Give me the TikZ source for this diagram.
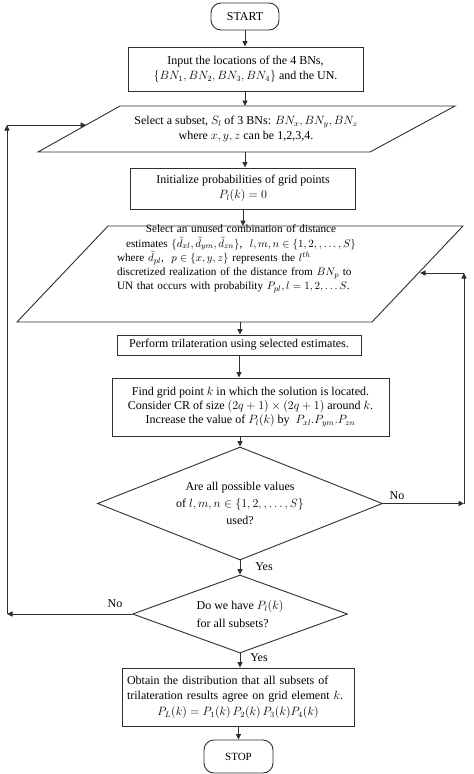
\documentclass[tikz,border=0pt]{standalone}
\usepackage{fontspec}
\setmainfont{Liberation Serif}
\usetikzlibrary{shapes.geometric,arrows.meta}
\tikzset{
  ln/.style={draw=black!82, line width=0.9pt},
  arr/.style={ln, -{Triangle[length=5.5pt,width=5pt]}},
  procbox/.style={ln, rectangle, inner sep=2pt, align=center},
  termbox/.style={ln, rectangle, rounded corners=10pt, inner sep=2pt, align=center},
  decbox/.style={ln, diamond, inner sep=0pt},
  lab/.style={inner sep=1pt}
}
\begin{document}
\begin{tikzpicture}[x=1pt,y=-1pt,font=\fontsize{12}{15}\selectfont]
\useasboundingbox (0,0) rectangle (474,774);

% terminals and boxes
\node[termbox, minimum width=68pt, minimum height=27pt] (start) at (245,16.5) {START};
\node[procbox, minimum width=235pt, minimum height=44pt] (input) at (245.5,69)
  {Input the locations of the 4 BNs,\\ $\{BN_1,BN_2,BN_3,BN_4\}$ and the UN.};

% parallelogram 1
\draw[ln] (120,106) -- (455,106) -- (370,152) -- (38,152) -- cycle;
\node[align=center] (sel) at (246,129)
  {Select a subset, $S_l$ of 3 BNs: $BN_x,BN_y,BN_z$\\ where $x,y,z$ can be 1,2,3,4.};
\coordinate (selN) at (245,106);
\coordinate (selS) at (245,152);
\coordinate (selW) at (86,125);

\node[procbox, minimum width=225pt, minimum height=41pt] (init) at (243,188.5)
  {Initialize probabilities of grid points\\ $P_l(k)=0$};

% parallelogram 2
\draw[ln] (108,226) -- (463,226) -- (372,322) -- (17,322) -- cycle;
\node[text width=248pt, align=left, inner sep=0pt, font=\fontsize{11.2}{14.2}\selectfont] (est) at (241,259)
  {\parskip=0pt{\centering Select an unused combination of distance\\
   estimates $\{\tilde{d}_{xl},\tilde{d}_{ym},\tilde{d}_{zn}\}$,\ \ $l,m,n\in\{1,2,,\ldots,S\}$\par}
   where $\tilde{d}_{pl}$,\ \ $p\in\{x,y,z\}$ represents the $l^{th}$\\
   discretized realization of the distance from $BN_p$ to\\
   UN that occurs with probability $P_{pl}, l=1,2,\ldots S$.};
\coordinate (estN) at (243,226);
\coordinate (estS) at (240,322);
\coordinate (estE) at (420,273);

\node[procbox, minimum width=244pt, minimum height=20pt] (perf) at (239,345)
  {Perform trilateration using selected estimates.};
\node[procbox, minimum width=277pt, minimum height=58pt, font=\fontsize{12}{14}\selectfont] (find) at (250.5,407)
  {Find grid point $k$ in which the solution is located.\\
   Consider CR of size $(2q+1)\times(2q+1)$ around $k$.\\
   Increase the value of $P_l(k)$ by\ \ $P_{xl}.P_{ym}.P_{zn}$};

\node[decbox, aspect=2.52, minimum width=285pt, minimum height=113pt, align=center,
      font=\fontsize{12}{17}\selectfont] (d1) at (240,503.5)
  {Are all possible values\\ of $l,m,n\in\{1,2,,\ldots,S\}$\\ used?};
\node[decbox, aspect=2.75, minimum width=215pt, minimum height=78pt, align=left,
      font=\fontsize{12}{18}\selectfont] (d2) at (240,614)
  {Do we have $P_l(k)$\\ for all subsets?};

\node[text width=222pt, procbox, inner sep=5pt, minimum height=58pt, align=left,
      font=\fontsize{12}{15.5}\selectfont] (obt) at (238,697)
  {\parskip=0pt Obtain the distribution that all subsets of\\
   trilateration results agree on grid element $k$.\par
   {\centering $P_L(k)=P_1(k)\,P_2(k)\,P_3(k)P_4(k)$\par}};
\node[termbox, minimum width=69pt, minimum height=33pt, font=\fontsize{11}{13}\selectfont] (stop) at (238.5,756.5) {STOP};

% connectors
\draw[arr] (start.south) -- (start.south |- input.north);
\draw[arr] (input.south -| selN) -- (selN);
\draw[arr] (selS) -- (selS |- init.north);
\draw[arr] (init.south -| estN) -- (estN);
\draw[arr] (estS) -- (estS |- perf.north);
\draw[arr] (perf.south) -- (perf.south |- find.north);
\draw[arr] (find.south -| d1.north) -- (d1.north);
\draw[arr] (d1.south) -- (d2.north);
\draw[arr] (d2.south) -- (d2.south |- obt.north);
\draw[arr] (obt.south -| stop.north) -- (stop.north);

% right loop (No)
\coordinate (rc1) at (464,503.5);
\coordinate (rc2) at (464,273);
\draw[arr] (d1.east) -- (rc1);
\draw[arr] (rc1) -- (rc2);
\draw[arr] (rc2) -- (estE);

% left loop (No)
\coordinate (lc1) at (7,614);
\coordinate (lc2) at (7,125);
\draw[arr] (d2.west) -- (lc1);
\draw[arr] (lc1) -- (lc2);
\draw[arr] (lc2) -- (selW);

% labels
\node[lab] (no1) at (397,496) {No};
\node[lab] (no2) at (115,604) {No};
\node[lab] (yes1) at (264,567) {Yes};
\node[lab] (yes2) at (259,658) {Yes};
\end{tikzpicture}
\end{document}
